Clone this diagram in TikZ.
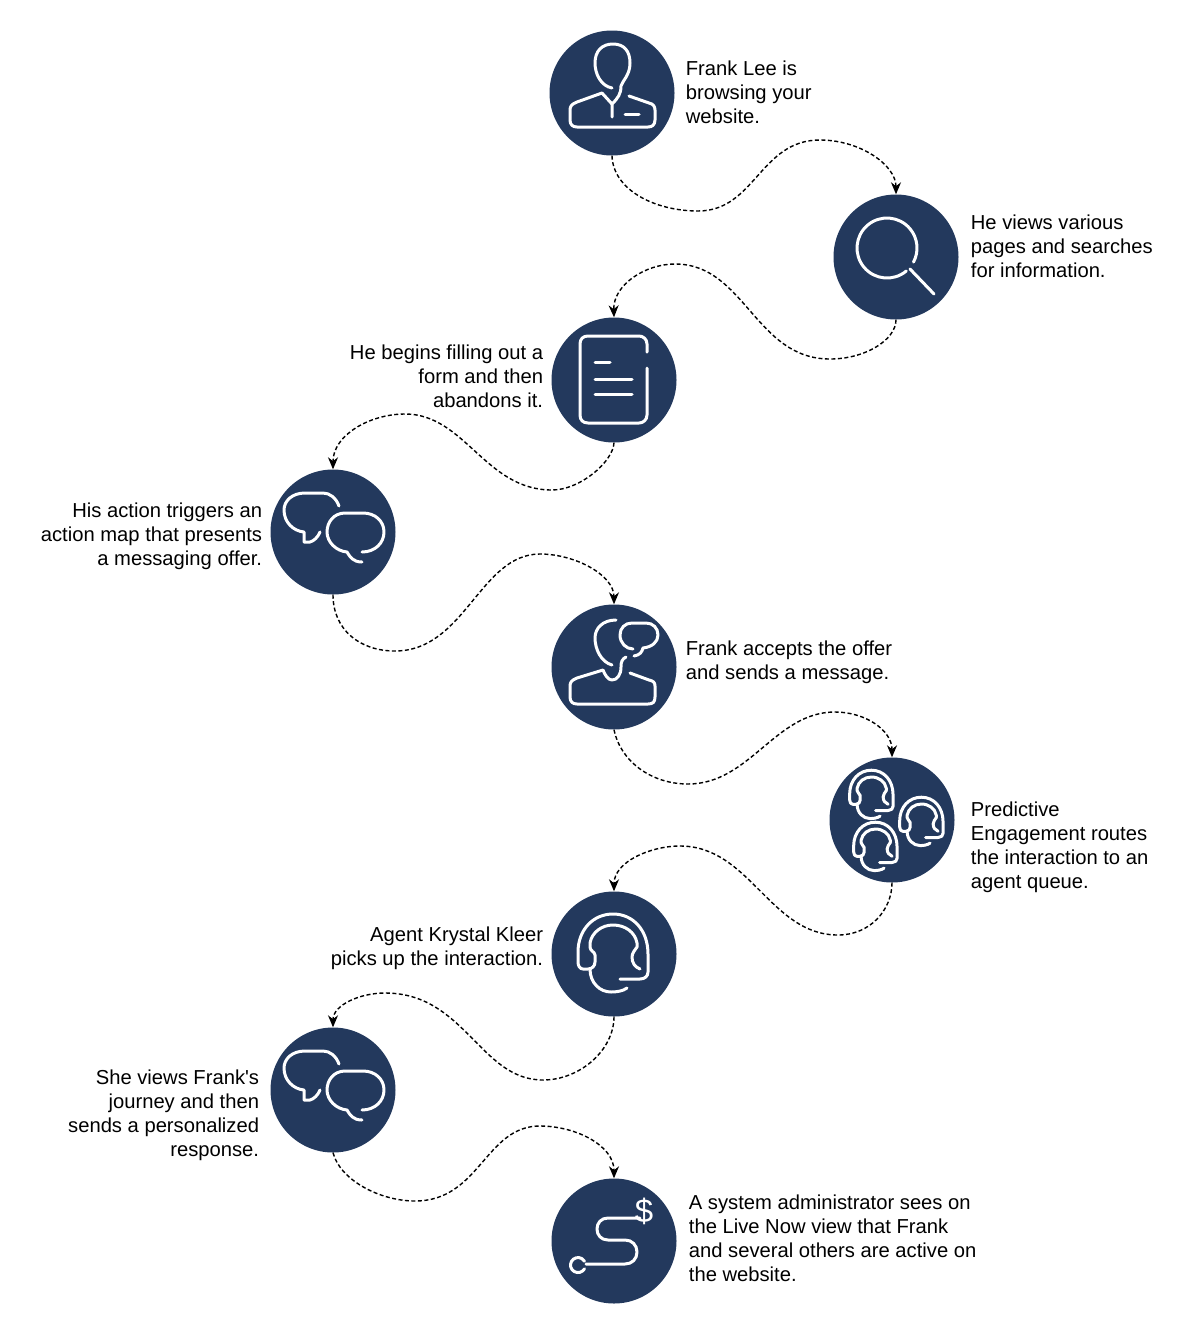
\documentclass[tikz,border=0pt]{standalone}
\usepackage{fontspec}
\setmainfont{Liberation Sans}[Ligatures=TeXOff]
\usetikzlibrary{positioning,arrows.meta}

\definecolor{stepblue}{HTML}{23395D}
\tikzset{
  stepnode/.style={circle, fill=stepblue, minimum size=125pt, inner sep=0pt},
  caption/.style={inner sep=0pt, font=\fontsize{20.2}{24}\selectfont},
  flow/.style={draw=black, line width=1.4pt, dash pattern=on 4pt off 2.5pt, -{Stealth[length=12pt,width=10pt]}},
  icon/.style={draw=white, line width=3pt, line cap=round, line join=round, fill=none},
  headset/.pic={
    \draw[icon] (6,25) -- (26,25) .. controls (31,25) and (34,22) .. (34,18) -- (34,0) .. controls (34,-24) and (19,-40) .. (-1,-40) .. controls (-21,-40) and (-36,-24) .. (-36,-2) -- (-36,8) .. controls (-36,12) and (-34,15) .. (-31,15) -- (-26,15) .. controls (-22,15) and (-19,12) .. (-19,8) -- (-19,1) .. controls (-19,-2) and (-24,-3) .. (-24,-7) -- (-24,-11) .. controls (-22,-22) and (-12,-29) .. (-1,-29) .. controls (11,-29) and (21,-22) .. (23,-11) -- (23,-7) .. controls (21,-4) and (18,-1) .. (18,3) .. controls (18,9) and (21,13) .. (26,15);
    \draw[icon] (-24,15) .. controls (-24,29) and (-14,38) .. (-3,38) .. controls (3,38) and (9,37) .. (13,34);
  },
  bubbles/.pic={
    \draw[icon] (6,-26) .. controls (3,-34) and (-3,-39) .. (-10,-39) -- (-28,-39) .. controls (-41,-39) and (-49,-31) .. (-49,-22) .. controls (-49,-10) and (-40,-1) .. (-29,0) -- (-29,10) -- (-23,10) .. controls (-19,9) and (-15,5) .. (-13,0);
    \draw[icon] (29,20) .. controls (42,20) and (51,11) .. (51,0) .. controls (51,-11) and (42,-19) .. (30,-19) -- (12,-19) .. controls (1,-19) and (-6,-10) .. (-6,0) .. controls (-6,10) and (3,19) .. (14,20) .. controls (17,25) and (20,30) .. (29,30);
  },
}

\begin{document}
\begin{tikzpicture}[x=1pt, y=-1pt]
    \useasboundingbox (0,0) rectangle (1200,1334);
    % Nodes
    \node[stepnode] (browse) at (612,93) {};
    \node[stepnode] (search) at (896,257) {};
    \node[stepnode] (form) at (614,380) {};
    \node[stepnode] (trigger) at (333,532) {};
    \node[stepnode] (accept) at (614,667) {};
    \node[stepnode] (queue) at (892,820) {};
    \node[stepnode] (agent) at (614,954) {};
    \node[stepnode] (reply) at (333,1090) {};
    \node[stepnode] (livenow) at (614,1241) {};
    % Captions
    \node[caption, align=left, right=11pt of browse, yshift=1pt] (browsetext) {Frank Lee is\\browsing your\\website.};
    \node[caption, align=left, right=12pt of search, yshift=11pt] (searchtext) {He views various\\pages and searches\\for information.};
    \node[caption, align=right, left=8pt of form, yshift=4pt] (formtext) {He begins filling out a\\form and then\\abandons it.};
    \node[caption, align=right, left=8pt of trigger, yshift=-4pt] (triggertext) {His action triggers an\\action map that presents\\a messaging offer.};
    \node[caption, align=left, right=9pt of accept, yshift=5pt] (accepttext) {Frank accepts the offer\\and sends a message.};
    \node[caption, align=left, right=16pt of queue, yshift=-27pt] (queuetext) {Predictive\\Engagement routes\\the interaction to an\\agent queue.};
    \node[caption, align=right, left=8pt of agent, yshift=6pt] (agenttext) {Agent Krystal Kleer\\picks up the interaction.};
    \node[caption, align=right, left=11pt of reply, yshift=-25pt] (replytext) {She views Frank's\\journey and then\\sends a personalized\\response.};
    \node[caption, align=left, right=12pt of livenow, yshift=3pt] (livenowtext) {A system administrator sees on\\the Live Now view that Frank\\and several others are active on\\the website.};
    % Icons
    \begin{scope}[shift={(browse)}]
      \draw[icon] (0,-5) .. controls (-11,-7) and (-17,-19) .. (-17,-30) .. controls (-17,-42) and (-10,-49) .. (1,-49) .. controls (12,-49) and (18,-42) .. (18,-30) .. controls (18,-18) and (11,-13) .. (9,-7) .. controls (9,1) and (6,5) .. (0,11) -- (0,24);
      \draw[icon] (0,11) -- (-10,0) -- (-35,9) .. controls (-40,11) and (-42,13) .. (-42,17) -- (-42,27) .. controls (-42,32) and (-39,34) .. (-35,34) -- (36,34) .. controls (40,34) and (43,32) .. (43,27) -- (43,17) .. controls (43,13) and (41,11) .. (37,10) -- (17,3);
      \draw[icon] (13,21) -- (27,21);
    \end{scope}
    \begin{scope}[shift={(search)}]
      \draw[icon] (10.3,14) arc[start angle=50, delta angle=338, radius=30];
      \draw[icon] (14,12) -- (38,37);
    \end{scope}
    \begin{scope}[shift={(form)}]
      \draw[icon] (33,-28) -- (33,-36) .. controls (33,-41) and (29,-44) .. (25,-44) -- (-26,-44) .. controls (-31,-44) and (-34,-41) .. (-34,-36) -- (-34,35) .. controls (-34,40) and (-31,43) .. (-26,43) -- (25,43) .. controls (29,43) and (33,40) .. (33,35) -- (33,-12);
      \draw[icon] (-19,-18) -- (-4,-18);
      \draw[icon] (-19,-1) -- (18,-1);
      \draw[icon] (-19,14) -- (18,14);
    \end{scope}
    \pic at (trigger) {bubbles};
    \begin{scope}[shift={(accept)}]
      \draw[icon] (2,-47) .. controls (-11,-47) and (-19,-39) .. (-19,-29) .. controls (-19,-18) and (-13,-5) .. (-2,-2);
      \draw[icon] (12,-10) .. controls (8,-8) and (7,-5) .. (7,0) .. controls (7,8) and (3,13) .. (-2,13) .. controls (-6,13) and (-9,8) .. (-11,3) -- (-37,11) .. controls (-42,13) and (-44,15) .. (-44,19) -- (-44,30) .. controls (-44,35) and (-41,37) .. (-37,37) -- (34,37) .. controls (39,37) and (41,35) .. (41,30) -- (41,19) .. controls (41,15) and (39,14) .. (35,13) -- (16,6);
      \draw[icon] (19,-18) .. controls (12,-18) and (6,-24) .. (6,-32) .. controls (6,-39) and (11,-44) .. (18,-44) -- (32,-44) .. controls (39,-44) and (44,-39) .. (44,-32) .. controls (44,-25) and (38,-20) .. (29,-19) .. controls (28,-15) and (26,-12) .. (20,-11);
    \end{scope}
    \pic[scale=.62] at ([xshift=-20pt,yshift=25pt]queue) {headset};
    \pic[scale=.62] at ([xshift=30pt,yshift=-2pt]queue) {headset};
    \pic[scale=.62] at ([xshift=-16pt,yshift=-27pt]queue) {headset};
    \pic at (agent) {headset};
    \pic at (reply) {bubbles};
    \begin{scope}[shift={(livenow)}]
      \draw[icon] (-29.5,27.8) arc[start angle=30, delta angle=300, radius=7.5];
      \draw[icon] (-28,23) -- (11,23) .. controls (18,23) and (23,18) .. (23,11) .. controls (23,4) and (18,-1) .. (11,-1) -- (-6,-1) .. controls (-13,-1) and (-17,-6) .. (-17,-12) .. controls (-17,-18) and (-13,-23) .. (-6,-23) -- (26,-23);
      \node[text=white, inner sep=0pt, font=\fontsize{33}{33}\selectfont] (dollar) at (30,-30) {\$};
    \end{scope}
    % Edges
    \draw[flow] (browse.south) .. controls (613,190) and (655,211) .. (698,211) .. controls (755,211) and (760,140) .. (820,140) .. controls (860,140) and (896,165) .. (search.north);
    \draw[flow] (search.south) .. controls (896,340) and (865,359) .. (830,359) .. controls (755,359) and (745,264) .. (675,264) .. controls (645,264) and (613,285) .. (form.north);
    \draw[flow] (form.south) .. controls (613,462) and (580,490) .. (552,490) .. controls (485,490) and (465,414) .. (405,414) .. controls (370,414) and (333,435) .. (trigger.north);
    \draw[flow] (trigger.south) .. controls (333,630) and (360,651) .. (395,651) .. controls (465,651) and (480,554) .. (540,554) .. controls (575,554) and (614,575) .. (accept.north);
    \draw[flow] (accept.south) .. controls (620,760) and (650,784) .. (688,784) .. controls (750,784) and (775,712) .. (835,712) .. controls (865,712) and (892,730) .. (queue.north);
    \draw[flow] (queue.south) .. controls (892,910) and (870,935) .. (838,935) .. controls (770,935) and (750,846) .. (680,846) .. controls (650,846) and (614,862) .. (agent.north);
    \draw[flow] (agent.south) .. controls (614,1050) and (580,1080) .. (543,1080) .. controls (480,1080) and (465,993) .. (385,993) .. controls (360,993) and (333,1005) .. (reply.north);
    \draw[flow] (reply.south) .. controls (340,1180) and (380,1201) .. (415,1201) .. controls (480,1201) and (485,1126) .. (540,1126) .. controls (575,1126) and (614,1145) .. (livenow.north);
  \end{tikzpicture}
\end{document}
